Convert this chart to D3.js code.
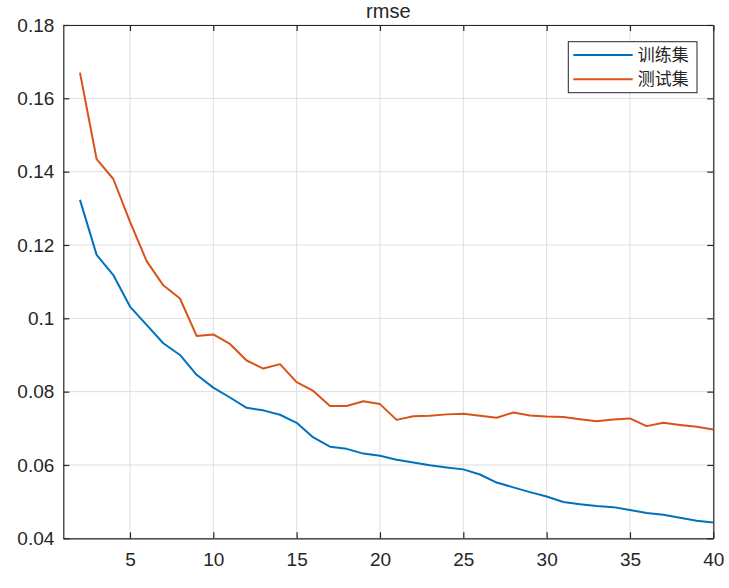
<!DOCTYPE html>
<html>
<head>
<meta charset="utf-8">
<script src="https://cdn.jsdelivr.net/npm/d3@7"></script>
<style>
body { margin: 0; background: #fff; }
text { font-family: "Liberation Sans", Arial, sans-serif; fill: #262626; }
</style>
</head>
<body>
<div id="chart"></div>
<script>
// data
var epochs = d3.range(2, 41);
var trainRmse = [0.1323, 0.1173, 0.1118, 0.1032, 0.0982, 0.0932, 0.0900, 0.0846, 0.0811,
    0.0784, 0.0756, 0.0749, 0.0737, 0.0715, 0.0675, 0.0650, 0.0644, 0.0631, 0.0625,
    0.0614, 0.0607, 0.0599, 0.0593, 0.0588, 0.0574, 0.0552, 0.0539, 0.0526, 0.0514,
    0.0499, 0.0493, 0.0488, 0.0485, 0.0477, 0.0469, 0.0464, 0.0456, 0.0448, 0.0443];
var testRmse = [0.1670, 0.1434, 0.1380, 0.1264, 0.1156, 0.1090, 0.1054, 0.0952, 0.0956,
    0.0930, 0.0885, 0.0863, 0.0875, 0.0826, 0.0802, 0.0761, 0.0761, 0.0774, 0.0766,
    0.0723, 0.0733, 0.0734, 0.0738, 0.0740, 0.0734, 0.0729, 0.0743, 0.0735, 0.0732,
    0.0731, 0.0725, 0.0719, 0.0724, 0.0727, 0.0706, 0.0715, 0.0709, 0.0704, 0.0697];
var seriesNames = ["训练集", "测试集"];
var seriesColors = ["#0072BD", "#D95319"];
var xTicks = [5, 10, 15, 20, 25, 30, 35, 40];
var yTicks = [0.04, 0.06, 0.08, 0.1, 0.12, 0.14, 0.16, 0.18];

var svgWidth = 729;
var svgHeight = 588;
var margin = { top: 25, right: 15.7, bottom: 49.7, left: 63.3 };
var width = svgWidth - margin.left - margin.right;
var height = svgHeight - margin.top - margin.bottom;

var svg = d3.select("#chart")
    .append("svg")
    .attr("width", svgWidth)
    .attr("height", svgHeight);

var chartGroup = svg.append("g")
    .attr("transform", `translate(${margin.left}, ${margin.top})`);

var xScale = d3.scaleLinear().domain([1, 40]).range([0, width]);
var yScale = d3.scaleLinear().domain([0.04, 0.18]).range([height, 0]);

// grid
chartGroup.append("g")
    .selectAll("line")
    .data(xTicks)
    .enter()
    .append("line")
    .attr("x1", d => xScale(d)).attr("x2", d => xScale(d))
    .attr("y1", 0).attr("y2", height)
    .attr("stroke", "#dedede").attr("stroke-width", 1);

chartGroup.append("g")
    .selectAll("line")
    .data(yTicks)
    .enter()
    .append("line")
    .attr("x1", 0).attr("x2", width)
    .attr("y1", d => yScale(d)).attr("y2", d => yScale(d))
    .attr("stroke", "#dedede").attr("stroke-width", 1);

// axes (ticks inward, box on)
var tickLen = 6;
var bottomAxis = d3.axisBottom(xScale).tickValues(xTicks).tickSizeInner(-tickLen).tickSizeOuter(0).tickPadding(14);
var leftAxis = d3.axisLeft(yScale).tickValues(yTicks).tickSizeInner(-tickLen).tickSizeOuter(0).tickPadding(9)
    .tickFormat(d => d3.format("")(+d.toFixed(2)));
var topAxis = d3.axisTop(xScale).tickValues(xTicks).tickSizeInner(-tickLen).tickSizeOuter(0).tickFormat("");
var rightAxis = d3.axisRight(yScale).tickValues(yTicks).tickSizeInner(-tickLen).tickSizeOuter(0).tickFormat("");

function styleAxis(g) {
    g.select(".domain").attr("stroke", "#262626").attr("stroke-width", 1.2);
    g.selectAll(".tick line").attr("stroke", "#262626").attr("stroke-width", 1.2);
    g.selectAll(".tick text").attr("fill", "#262626").style("font-size", "19px");
}

chartGroup.append("g").attr("transform", `translate(0, ${height})`).call(bottomAxis).call(styleAxis);
chartGroup.append("g").call(leftAxis).call(styleAxis);
chartGroup.append("g").call(topAxis).call(styleAxis);
chartGroup.append("g").attr("transform", `translate(${width}, 0)`).call(rightAxis).call(styleAxis);

// lines
var line = d3.line()
    .x((d, i) => xScale(epochs[i]))
    .y(d => yScale(d));

[trainRmse, testRmse].forEach(function (values, i) {
    chartGroup.append("path")
        .datum(values)
        .attr("fill", "none")
        .attr("stroke", seriesColors[i])
        .attr("stroke-width", 2)
        .attr("stroke-linejoin", "round")
        .attr("d", line);
});

// title
svg.append("text")
    .attr("x", margin.left + width / 2)
    .attr("y", 18)
    .attr("text-anchor", "middle")
    .style("font-size", "20px")
    .text("rmse");

// legend
var legend = svg.append("g").attr("transform", "translate(568.3, 41.7)");
legend.append("rect")
    .attr("width", 128.7).attr("height", 51)
    .attr("fill", "#fff").attr("stroke", "#262626").attr("stroke-width", 1);

seriesNames.forEach(function (name, i) {
    var yy = 13.3 + i * 24.3;
    legend.append("line")
        .attr("x1", 5).attr("x2", 64.4)
        .attr("y1", yy).attr("y2", yy)
        .attr("stroke", seriesColors[i]).attr("stroke-width", 2);
    legend.append("text")
        .attr("x", 69.4).attr("y", yy)
        .attr("dy", "0.36em")
        .style("font-family", '"Noto Sans CJK SC", sans-serif')
        .style("font-size", "17px")
        .text(name);
});
</script>
</body>
</html>
